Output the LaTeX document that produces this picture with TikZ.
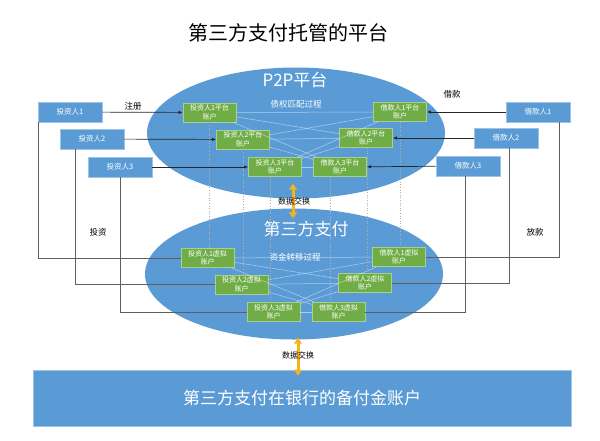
\documentclass[tikz,border=0pt]{standalone}
\usepackage{fontspec}
\setmainfont{Noto Sans CJK SC}
\usetikzlibrary{
arrows.meta,
shapes.geometric
}
\definecolor{office}{HTML}{5B9BD5}
\definecolor{officeedge}{HTML}{9DC3E6}
\definecolor{leaf}{HTML}{70AD47}
\definecolor{leafedge}{HTML}{A9D18E}
\definecolor{wire}{HTML}{5F5F5F}
\definecolor{amber}{HTML}{F4B41A}

\begin{document}
\begin{tikzpicture}[
x=1pt, y=-1pt,
party/.style={
rectangle,
draw=officeedge,
fill=office,
line width=0.8pt,
minimum width=64,
minimum height=20,
inner sep=0pt,
text=white,
font=\fontsize{7.5}{9}\selectfont
},
acct/.style={
rectangle,
draw=leafedge,
fill=leaf,
line width=0.8pt,
minimum width=53,
minimum height=19,
inner sep=0pt,
align=center,
text=white,
font=\fontsize{7}{8.5}\selectfont
},
oval/.style={ellipse, fill=office, minimum width=298, minimum height=131, inner sep=0pt},
big/.style={text=white, font=\fontsize{17}{20}\selectfont},
note/.style={font=\fontsize{8.5}{10}\selectfont},
link/.style={draw=wire, line width=0.7pt},
feed/.style={draw=black!85, line width=0.7pt, -{Latex[length=4pt,width=3.5pt]}},
match/.style={draw=white, draw opacity=0.5, line width=0.5pt},
dotline/.style={draw=gray!60, dotted, line width=0.6pt},
xchg/.style={draw=amber, line width=3pt, {Triangle[width=8pt,length=6pt]}-{Triangle[width=8pt,length=6pt]}}
]
\path[use as bounding box] (0,0) rectangle (600,440);

\node[font=\fontsize{20}{24}\selectfont] (title) at (288,33) {第三方支付托管的平台};

% two platforms and the bank account
\node[oval] (p2p) at (296,133) {};
\node[oval] (pay) at (294,274) {};
\node[rectangle, draw=officeedge, fill=office, line width=0.8pt,
minimum width=538, minimum height=56, big] (bank) at (302,398)
{第三方支付在银行的备付金账户};

\node[big] (p2ptxt) at (295,80) {P2P平台};
\node[note, text=white] (matchtxt) at (296,104) {债权匹配过程};
\node[big] (paytxt) at (306,229) {第三方支付};
\node[note, text=white] (movetxt) at (295,257) {资金转移过程};

% investors and borrowers
\node[party] (inv1) at (70,112) {投资人1};
\node[party] (inv2) at (92,139) {投资人2};
\node[party] (inv3) at (120,167) {投资人3};
\node[party] (bor1) at (538,112) {借款人1};
\node[party] (bor2) at (506,138) {借款人2};
\node[party] (bor3) at (468,166) {借款人3};

% platform accounts
\node[acct] (pinv1) at (209.5,112.5) {投资人1平台\\账户};
\node[acct] (pinv2) at (243,139.5) {投资人2平台\\账户};
\node[acct] (pinv3) at (275,167) {投资人3平台\\账户};
\node[acct] (pbor1) at (400,112) {借款人1平台\\账户};
\node[acct] (pbor2) at (366,138) {借款人2平台\\账户};
\node[acct] (pbor3) at (340,167) {借款人3平台\\账户};

% virtual accounts
\node[acct] (vinv1) at (207.5,258) {投资人1虚拟\\账户};
\node[acct] (vinv2) at (241.5,284.5) {投资人2虚拟\\账户};
\node[acct] (vinv3) at (273.5,312) {投资人3虚拟\\账户};
\node[acct] (vbor1) at (399,257) {借款人1虚拟\\账户};
\node[acct] (vbor2) at (365,283) {借款人2虚拟\\账户};
\node[acct] (vbor3) at (338.5,312) {借款人3虚拟\\账户};

\foreach \i in {1,2,3}
\foreach \j in {1,2,3}{
\draw[match] (pinv\i) -- (pbor\j);
\draw[match] (vinv\i) -- (vbor\j);
}

\foreach \i/\dx in {1/0,2/0,3/-5}
\draw[dotline] ([xshift=\dx pt]pinv\i.south) -- ([xshift=\dx pt]pinv\i.south |- vinv\i.north);
\foreach \i/\dx in {1/0,2/1,3/-10}
\draw[dotline] ([xshift=\dx pt]pbor\i.south) -- ([xshift=\dx pt]pbor\i.south |- vbor\i.north);

% registration and borrowing
\foreach \i in {1,2,3}{
\draw[feed] (inv\i) -- (pinv\i);
\draw[feed] (bor\i) -- (pbor\i);
}
\node[note] (reg) at (133,106) {注册};
\node[note] (loan) at (452,94) {借款};

% investing and lending
\draw[link] ([xshift=1pt]inv1.south west) |- (vinv1);
\draw[link] ([xshift=16pt]inv2.south west) |- (vinv2);
\draw[link] (inv3.south) |- (vinv3);
\draw[link] ([xshift=-11pt]bor1.south east) |- (vbor1);
\draw[link] ([xshift=3pt]bor2.south) |- (vbor2);
\draw[link] ([xshift=-3pt]bor3.south) |- (vbor3);
\node[note] (invest) at (98,232) {投资};
\node[note] (lend) at (535,232) {放款};

% data exchange
\draw[xchg] ([xshift=-3pt,yshift=15pt]p2p.south) -- ([xshift=-1pt,yshift=-10pt]pay.north);
\draw[xchg] ([xshift=4pt,yshift=2pt]pay.south) -- ([xshift=-4pt,yshift=-6pt]bank.north);
\node[note, font=\fontsize{8}{10}\selectfont] (swap1) at (294,201) {数据交换};
\node[note, font=\fontsize{8}{10}\selectfont] (swap2) at (298,355) {数据交换};

\end{tikzpicture}
\end{document}
